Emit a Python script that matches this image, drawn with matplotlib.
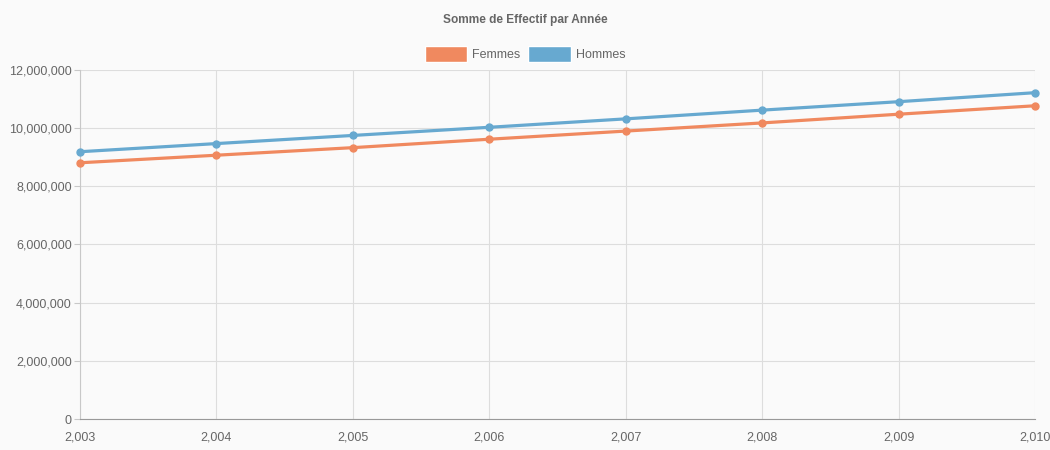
import matplotlib.pyplot as plt
from matplotlib.patches import Patch
from matplotlib.ticker import FuncFormatter

# data
annees = [2003, 2004, 2005, 2006, 2007, 2008, 2009, 2010]
femmes = [8810000, 9070000, 9330000, 9620000, 9900000, 10180000, 10480000, 10770000]
hommes = [9190000, 9470000, 9750000, 10030000, 10320000, 10620000, 10910000, 11220000]

couleur_f = "#f0895f"
couleur_h = "#67a9d0"
gris = "#666666"

plt.rcParams['font.family'] = ['Liberation Sans', 'DejaVu Sans']

fig = plt.figure(figsize=(10.5, 4.5), dpi=100, facecolor="#fafafa")
ax = fig.add_axes([80/1050, 31/450, 955/1050, 349/450])
ax.set_facecolor("#fafafa")

ax.plot(annees, femmes, color=couleur_f, lw=2.3, marker="o", ms=5, zorder=3, clip_on=False)
ax.plot(annees, hommes, color=couleur_h, lw=2.3, marker="o", ms=5, zorder=3, clip_on=False)

ax.set_xlim(2003, 2010)
ax.set_ylim(0, 12000000)
ax.set_xticks(annees)
ax.set_yticks(range(0, 12000001, 2000000))
ax.xaxis.set_major_formatter(FuncFormatter(lambda v, p: f"{int(v):,}"))
ax.yaxis.set_major_formatter(FuncFormatter(lambda v, p: f"{int(v):,}"))

ax.grid(True, color="#dddddd", lw=0.8)
ax.set_axisbelow(True)
for s in ["top", "right"]:
    ax.spines[s].set_visible(False)
ax.spines["left"].set_color("#c8c8c8")
ax.spines["bottom"].set_color("#999999")
ax.tick_params(axis="y", length=4, color="#c8c8c8", labelsize=9, labelcolor=gris, pad=2)
ax.tick_params(axis="x", length=0, labelsize=9, labelcolor=gris, pad=9)

fig.text(0.5, 1 - 20.5/450, "Somme de Effectif par Année", ha="center", va="center",
         fontsize=8.6, fontweight="bold", color=gris)

poignees = [Patch(facecolor=couleur_f, edgecolor="white", label="Femmes"),
            Patch(facecolor=couleur_h, edgecolor="white", label="Hommes")]
fig.legend(handles=poignees, loc="center", bbox_to_anchor=(0.5, 1 - 54/450), ncol=2,
           frameon=False, fontsize=9, labelcolor=gris, handlelength=3.4, handleheight=1.6,
           handletextpad=0.4, columnspacing=0.6)

fig.savefig("out.png", dpi=100, facecolor=fig.get_facecolor())
